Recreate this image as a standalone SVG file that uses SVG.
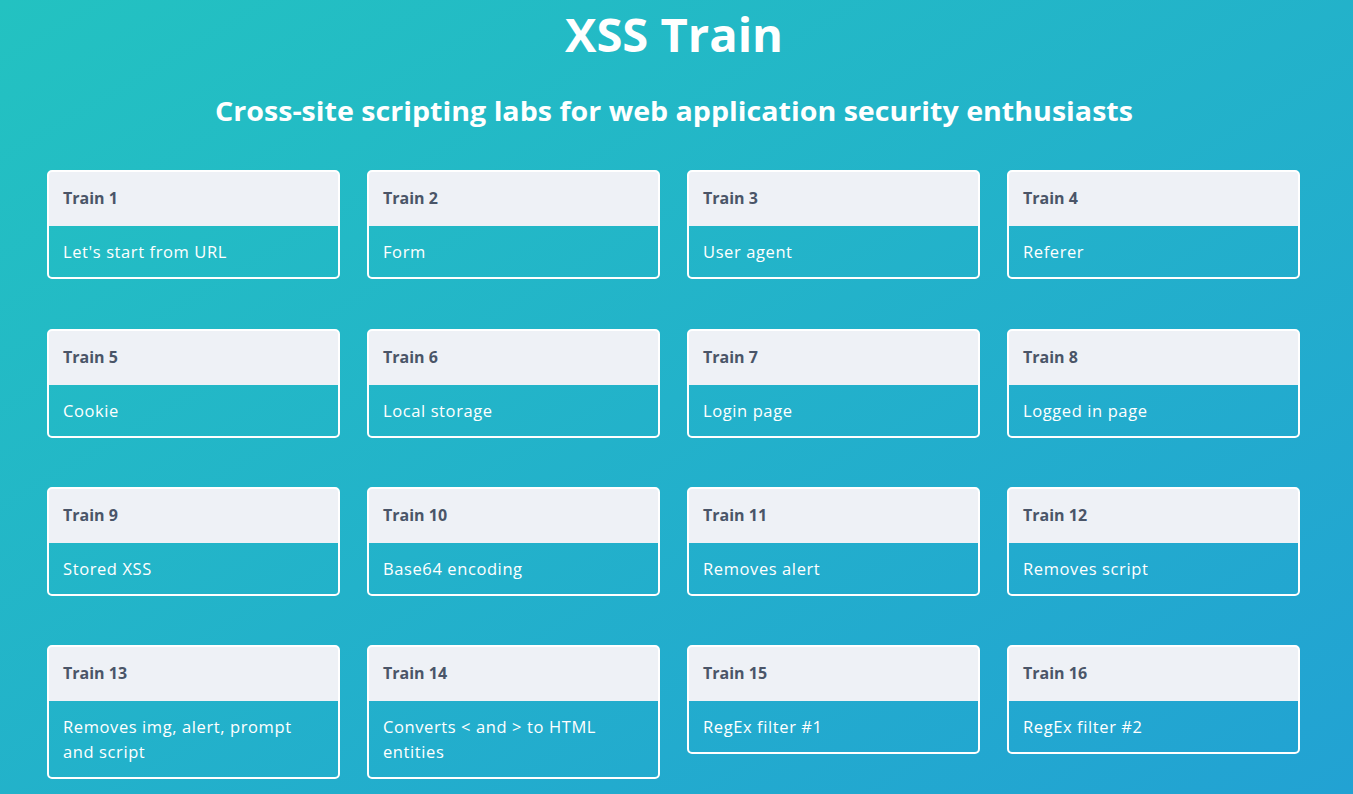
<svg xmlns="http://www.w3.org/2000/svg" width="1353" height="794" viewBox="0 0 1353 794">
<defs>
<linearGradient id="bg" x1="0" y1="0" x2="1" y2="1">
<stop offset="0" stop-color="#23c2c1"/><stop offset="1" stop-color="#22a2d3"/>
</linearGradient>
</defs>
<style>
text{font-family:"Open Sans","Noto Sans",sans-serif}
.card{fill:none;stroke:#fff;stroke-width:2}
.hd{fill:#eef1f6}
.ht{font-size:16px;font-weight:bold;fill:#4a5568}
.bt{font-size:16.5px;fill:#fff;letter-spacing:0.6px}
.t{fill:#fff;font-weight:bold;text-anchor:middle}
</style>
<rect width="1353" height="794" fill="url(#bg)"/>
<text class="t" x="674" y="52" font-size="46" textLength="218" lengthAdjust="spacingAndGlyphs">XSS Train</text>
<text class="t" x="674" y="121" font-size="27" textLength="918" lengthAdjust="spacingAndGlyphs">Cross-site scripting labs for web application security enthusiasts</text>
<g id="cards">
<g id="c1"><path class="hd" d="M48,226V175a4,4 0 0 1 4,-4H335a4,4 0 0 1 4,4V226Z"/><rect class="card" x="48" y="171" width="291" height="107" rx="4"/><text class="ht" x="63" y="204">Train 1</text><text class="bt" x="63" y="258">Let's start from URL</text></g>
<g id="c2"><path class="hd" d="M368,226V175a4,4 0 0 1 4,-4H655a4,4 0 0 1 4,4V226Z"/><rect class="card" x="368" y="171" width="291" height="107" rx="4"/><text class="ht" x="383" y="204">Train 2</text><text class="bt" x="383" y="258">Form</text></g>
<g id="c3"><path class="hd" d="M688,226V175a4,4 0 0 1 4,-4H975a4,4 0 0 1 4,4V226Z"/><rect class="card" x="688" y="171" width="291" height="107" rx="4"/><text class="ht" x="703" y="204">Train 3</text><text class="bt" x="703" y="258">User agent</text></g>
<g id="c4"><path class="hd" d="M1008,226V175a4,4 0 0 1 4,-4H1295a4,4 0 0 1 4,4V226Z"/><rect class="card" x="1008" y="171" width="291" height="107" rx="4"/><text class="ht" x="1023" y="204">Train 4</text><text class="bt" x="1023" y="258">Referer</text></g>
<g id="c5"><path class="hd" d="M48,385V334a4,4 0 0 1 4,-4H335a4,4 0 0 1 4,4V385Z"/><rect class="card" x="48" y="330" width="291" height="107" rx="4"/><text class="ht" x="63" y="363">Train 5</text><text class="bt" x="63" y="417">Cookie</text></g>
<g id="c6"><path class="hd" d="M368,385V334a4,4 0 0 1 4,-4H655a4,4 0 0 1 4,4V385Z"/><rect class="card" x="368" y="330" width="291" height="107" rx="4"/><text class="ht" x="383" y="363">Train 6</text><text class="bt" x="383" y="417">Local storage</text></g>
<g id="c7"><path class="hd" d="M688,385V334a4,4 0 0 1 4,-4H975a4,4 0 0 1 4,4V385Z"/><rect class="card" x="688" y="330" width="291" height="107" rx="4"/><text class="ht" x="703" y="363">Train 7</text><text class="bt" x="703" y="417">Login page</text></g>
<g id="c8"><path class="hd" d="M1008,385V334a4,4 0 0 1 4,-4H1295a4,4 0 0 1 4,4V385Z"/><rect class="card" x="1008" y="330" width="291" height="107" rx="4"/><text class="ht" x="1023" y="363">Train 8</text><text class="bt" x="1023" y="417">Logged in page</text></g>
<g id="c9"><path class="hd" d="M48,543V492a4,4 0 0 1 4,-4H335a4,4 0 0 1 4,4V543Z"/><rect class="card" x="48" y="488" width="291" height="107" rx="4"/><text class="ht" x="63" y="521">Train 9</text><text class="bt" x="63" y="575">Stored XSS</text></g>
<g id="c10"><path class="hd" d="M368,543V492a4,4 0 0 1 4,-4H655a4,4 0 0 1 4,4V543Z"/><rect class="card" x="368" y="488" width="291" height="107" rx="4"/><text class="ht" x="383" y="521">Train 10</text><text class="bt" x="383" y="575">Base64 encoding</text></g>
<g id="c11"><path class="hd" d="M688,543V492a4,4 0 0 1 4,-4H975a4,4 0 0 1 4,4V543Z"/><rect class="card" x="688" y="488" width="291" height="107" rx="4"/><text class="ht" x="703" y="521">Train 11</text><text class="bt" x="703" y="575">Removes alert</text></g>
<g id="c12"><path class="hd" d="M1008,543V492a4,4 0 0 1 4,-4H1295a4,4 0 0 1 4,4V543Z"/><rect class="card" x="1008" y="488" width="291" height="107" rx="4"/><text class="ht" x="1023" y="521">Train 12</text><text class="bt" x="1023" y="575">Removes script</text></g>
<g id="c13"><path class="hd" d="M48,701V650a4,4 0 0 1 4,-4H335a4,4 0 0 1 4,4V701Z"/><rect class="card" x="48" y="646" width="291" height="132" rx="4"/><text class="ht" x="63" y="679">Train 13</text><text class="bt" x="63" y="733">Removes img, alert, prompt</text><text class="bt" x="63" y="758">and script</text></g>
<g id="c14"><path class="hd" d="M368,701V650a4,4 0 0 1 4,-4H655a4,4 0 0 1 4,4V701Z"/><rect class="card" x="368" y="646" width="291" height="132" rx="4"/><text class="ht" x="383" y="679">Train 14</text><text class="bt" x="383" y="733">Converts &lt; and &gt; to HTML</text><text class="bt" x="383" y="758">entities</text></g>
<g id="c15"><path class="hd" d="M688,701V650a4,4 0 0 1 4,-4H975a4,4 0 0 1 4,4V701Z"/><rect class="card" x="688" y="646" width="291" height="107" rx="4"/><text class="ht" x="703" y="679">Train 15</text><text class="bt" x="703" y="733">RegEx filter #1</text></g>
<g id="c16"><path class="hd" d="M1008,701V650a4,4 0 0 1 4,-4H1295a4,4 0 0 1 4,4V701Z"/><rect class="card" x="1008" y="646" width="291" height="107" rx="4"/><text class="ht" x="1023" y="679">Train 16</text><text class="bt" x="1023" y="733">RegEx filter #2</text></g>
</g>
</svg>
